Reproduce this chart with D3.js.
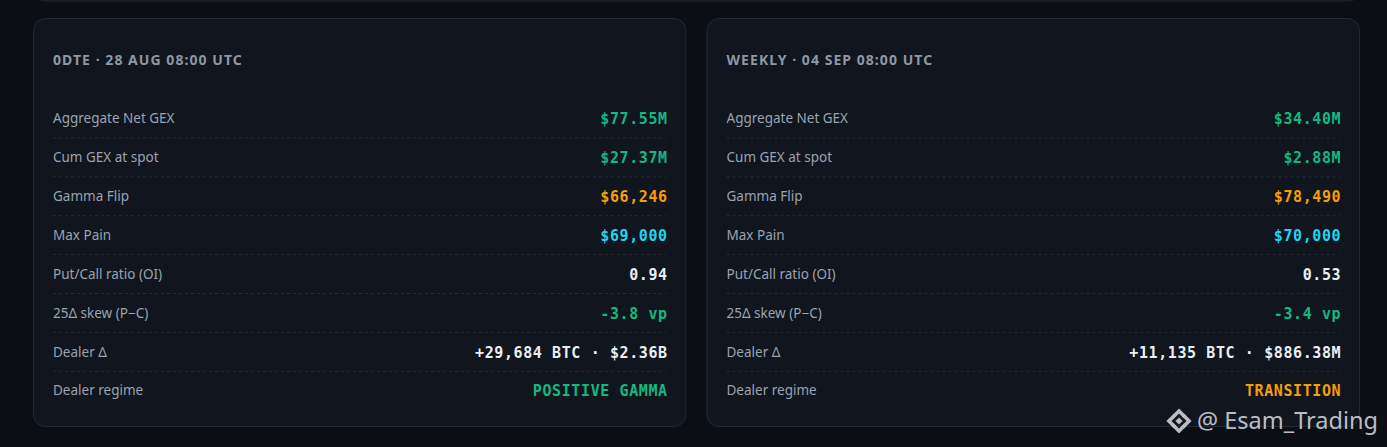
<!DOCTYPE html>
<html>
<head>
<meta charset="utf-8">
<script src="https://cdn.jsdelivr.net/npm/d3@7"></script>
<style>
  html, body { margin: 0; padding: 0; background: #0b0e13; }
  svg { display: block; }
</style>
</head>
<body>
<div id="board"></div>
<script>
// Data

var expiries = ["0DTE · 28 AUG 08:00 UTC", "WEEKLY · 04 SEP 08:00 UTC"];

var metrics = [
  "Aggregate Net GEX",
  "Cum GEX at spot",
  "Gamma Flip",
  "Max Pain",
  "Put/Call ratio (OI)",
  "25Δ skew (P−C)",
  "Dealer Δ",
  "Dealer regime"
];

var zeroDteValues = ["$77.55M", "$27.37M", "$66,246", "$69,000", "0.94", "-3.8 vp", "+29,684 BTC · $2.36B", "POSITIVE GAMMA"];
var weeklyValues = ["$34.40M", "$2.88M", "$78,490", "$70,000", "0.53", "-3.4 vp", "+11,135 BTC · $886.38M", "TRANSITION"];

var cardValues = [zeroDteValues, weeklyValues];

// Colours

var green = "#10b981",
    orange = "#f59e0b",
    cyan = "#22d3ee",
    white = "#eceef2",
    label = "#9aa3af";

function valueColor(metric, value) {
  if (metric === "Gamma Flip") return orange;
  if (metric === "Max Pain") return cyan;
  if (metric === "Dealer regime") return value === "TRANSITION" ? orange : green;
  if (metric === "Put/Call ratio (OI)" || metric === "Dealer Δ") return white;
  return green;
}

var svgWidth = 1387;
var svgHeight = 447;

var svg = d3.select("#board")
  .append("svg")
  .attr("width", svgWidth)
  .attr("height", svgHeight);

svg.append("rect")
  .attr("width", svgWidth)
  .attr("height", svgHeight)
  .attr("fill", "#0b0e13");

// bottom edge of the panel above
svg.append("rect")
  .attr("x", 33.5)
  .attr("y", -40)
  .attr("width", 1327)
  .attr("height", 41)
  .attr("rx", 12)
  .attr("fill", "#11151c")
  .attr("stroke", "#1e2733");

// Scales
var x = d3.scaleBand()
  .domain(expiries)
  .range([33, 1360])
  .paddingInner(20 / 673);

var cardTop = 18, cardBottom = 426, pad = 20;

var y = d3.scaleBand()
  .domain(metrics)
  .range([98.5, 409.7]);

var cards = svg.selectAll("g.card")
  .data(expiries.map(function(e, i) { return {title: e, values: cardValues[i]}; }))
  .enter()
  .append("g")
  .attr("class", "card")
  .attr("transform", d => `translate(${x(d.title)}, 0)`);

cards.append("rect")
  .attr("x", 0.5)
  .attr("y", cardTop + 0.5)
  .attr("width", x.bandwidth() - 1)
  .attr("height", cardBottom - cardTop)
  .attr("rx", 12)
  .attr("fill", "#11151d")
  .attr("stroke", "#222a36");

cards.append("text")
  .attr("x", pad)
  .attr("y", 64.5)
  .attr("fill", "#8e97a4")
  .attr("font-family", "'Noto Sans', sans-serif")
  .attr("font-weight", 700)
  .attr("font-size", "14px")
  .attr("letter-spacing", "1.05px")
  .text(d => d.title);

var rows = cards.selectAll("g.row")
  .data(d => metrics.map((m, i) => ({metric: m, value: d.values[i]})))
  .enter()
  .append("g")
  .attr("class", "row")
  .attr("transform", d => `translate(0, ${y(d.metric)})`);

// dashed separators between rows
rows.filter((d, i) => i < metrics.length - 1)
  .append("line")
  .attr("x1", pad)
  .attr("x2", x.bandwidth() - pad)
  .attr("y1", y.bandwidth() + 0.5)
  .attr("y2", y.bandwidth() + 0.5)
  .attr("stroke", "#252d39")
  .attr("stroke-dasharray", "3,3");

rows.append("text")
  .attr("x", pad)
  .attr("y", y.bandwidth() / 2 + 0.5)
  .attr("dy", "0.35em")
  .attr("fill", label)
  .attr("font-family", "'Noto Sans', sans-serif")
  .attr("font-size", "13.5px")
  .text(d => d.metric);

rows.append("text")
  .attr("x", x.bandwidth() - pad + 1.2)
  .attr("y", y.bandwidth() / 2 + 0.8)
  .attr("dy", "0.36em")
  .attr("text-anchor", "end")
  .attr("fill", d => valueColor(d.metric, d.value))
  .attr("font-family", "'DejaVu Sans Mono', monospace")
  .attr("font-weight", 700)
  .attr("font-size", "15px")
  .attr("letter-spacing", "0.6px")
  .text(d => d.value);

// Watermark
var mark = svg.append("g")
  .attr("transform", "translate(1179, 421)")
  .attr("fill", "#d9dbe0")
  .attr("opacity", 0.85);

var s = 3.6;
mark.append("path")
  .attr("d", `M0,${-s} L${s},0 L0,${s} L${-s},0 Z`);
[[0, -8.5], [8.5, 0], [0, 8.5], [-8.5, 0]].forEach(function(p) {
  var ang = Math.atan2(p[1], p[0]) * 180 / Math.PI;
  mark.append("path")
    .attr("d", "M-7.5,0 L0,-7.5 L7.5,0 L5,2.5 L0,-2.4 L-5,2.5 Z")
    .attr("transform", `translate(${p[0] * 0.6}, ${p[1] * 0.6}) rotate(${ang + 90})`);
});

svg.append("text")
  .attr("x", 1197)
  .attr("y", 421)
  .attr("dy", "0.35em")
  .attr("fill", "#d9dbe0")
  .attr("opacity", 0.85)
  .attr("font-family", "'Noto Sans', sans-serif")
  .attr("font-size", "23.5px")
  .text("@ Esam_Trading");
</script>
</body>
</html>
